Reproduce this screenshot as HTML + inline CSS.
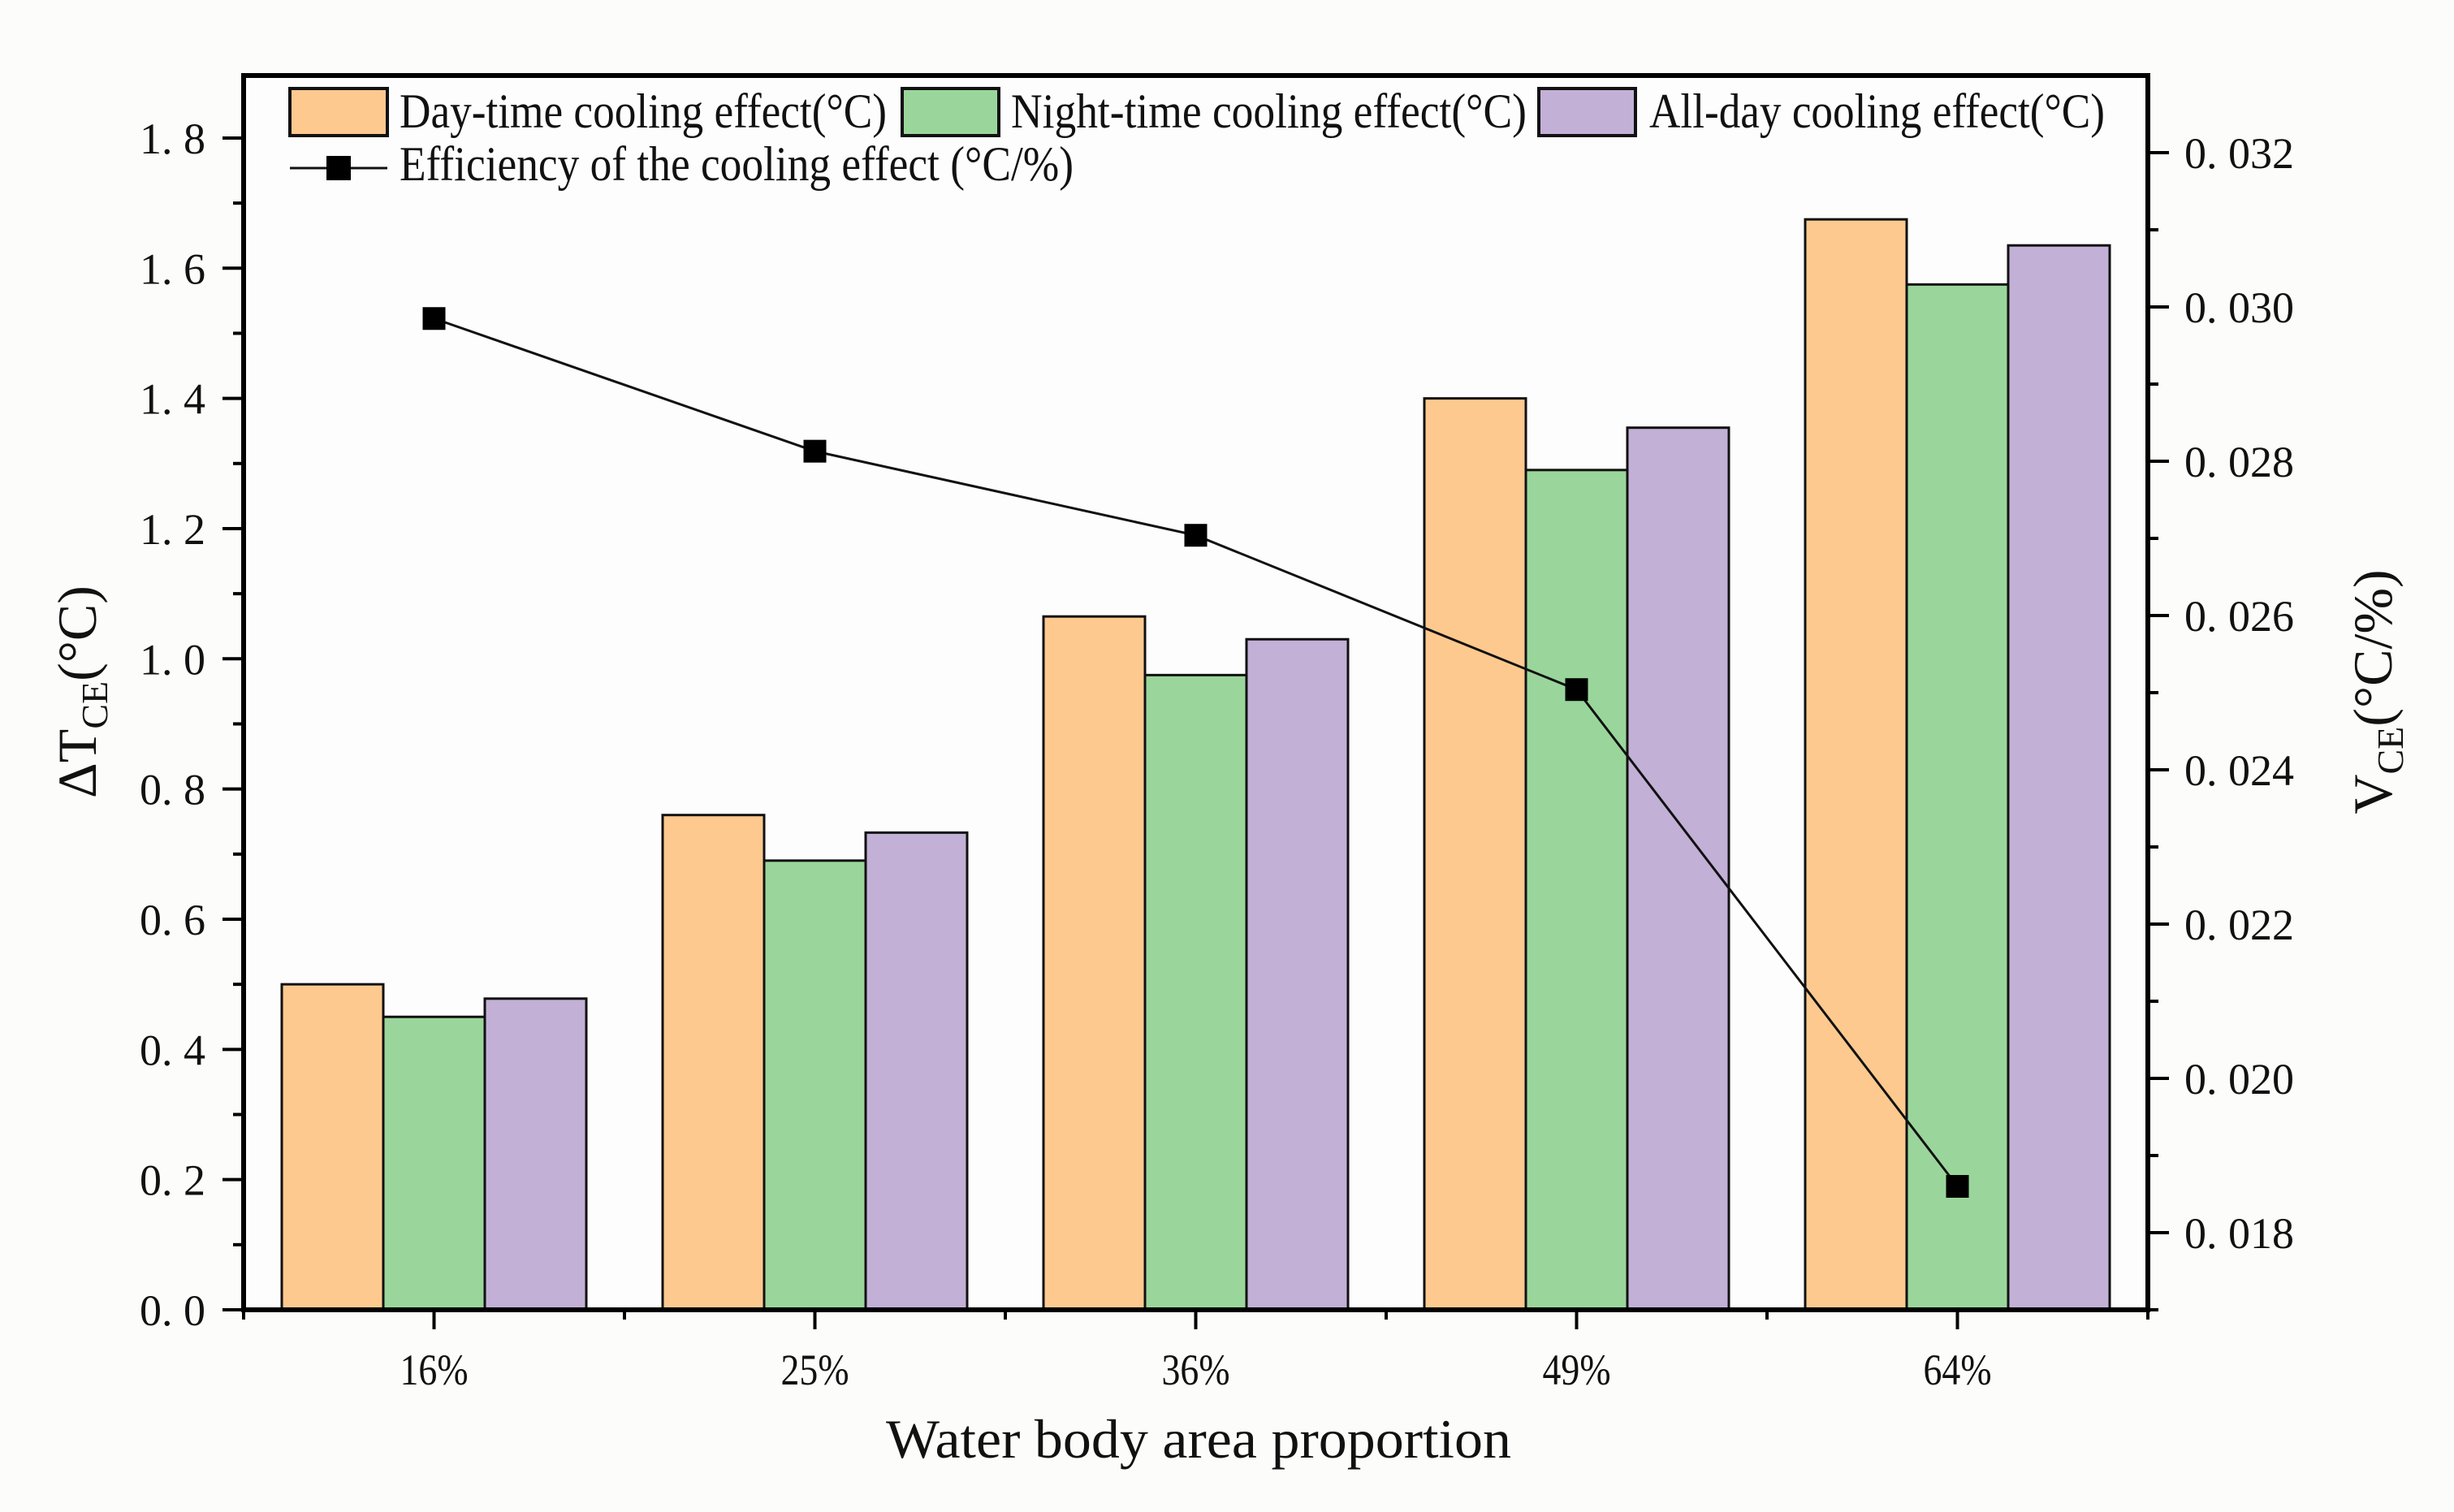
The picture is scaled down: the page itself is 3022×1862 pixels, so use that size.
<!DOCTYPE html>
<html><head><meta charset="utf-8"><style>
html,body{margin:0;padding:0;background:#fcfcfb}
svg{display:block}
text{font-family:"Liberation Serif",serif;fill:#111}
</style></head><body>
<svg id="chart" width="3022" height="1862" viewBox="0 0 3022 1862" xmlns="http://www.w3.org/2000/svg">
<rect x="0" y="0" width="3022" height="1862" fill="#fcfcfb"/>
<rect x="300" y="93" width="2345" height="1520" fill="#fdfdfd"/>
<g id="bars"></g>
<g id="line"></g>
<g id="axes"></g>
<g id="legend">
  <rect x="357" y="109" width="120" height="58" fill="#fdc98f" stroke="#111" stroke-width="4"/>
  <text x="492" y="157" font-size="60" textLength="600" lengthAdjust="spacingAndGlyphs">Day-time cooling effect(°C)</text>
  <rect x="1111" y="109" width="119" height="58" fill="#9ad69b" stroke="#111" stroke-width="4"/>
  <text x="1245" y="157" font-size="60" textLength="635" lengthAdjust="spacingAndGlyphs">Night-time cooling effect(°C)</text>
  <rect x="1895" y="109" width="119" height="58" fill="#c2b0d6" stroke="#111" stroke-width="4"/>
  <text x="2031" y="157" font-size="60" textLength="561" lengthAdjust="spacingAndGlyphs">All-day cooling effect(°C)</text>
  <line x1="357" y1="207" x2="477" y2="207" stroke="#111" stroke-width="3"/>
  <rect x="402" y="192" width="30" height="30" fill="#000"/>
  <text x="492" y="222" font-size="60" textLength="830" lengthAdjust="spacingAndGlyphs">Efficiency of the cooling effect (°C/%)</text>
</g>
<text transform="translate(118,852) rotate(-90)" text-anchor="middle" font-size="68">ΔT<tspan font-size="46" dy="14">CE</tspan><tspan dy="-14">(°C)</tspan></text>
<text transform="translate(2945,852) rotate(-90)" text-anchor="middle" font-size="68">V<tspan font-size="46" dy="14">CE</tspan><tspan dy="-14">(°C/%)</tspan></text>
<text x="1476" y="1795" text-anchor="middle" font-size="68" textLength="770" lengthAdjust="spacingAndGlyphs">Water body area proportion</text>
</svg>
<script>
const categories = ["16%","25%","36%","49%","64%"];
const dayValues = [0.50, 0.76, 1.065, 1.40, 1.675];
const nightValues = [0.45, 0.69, 0.975, 1.29, 1.575];
const allDayValues = [0.478, 0.733, 1.03, 1.355, 1.635];
const efficiencyValues = [0.02985, 0.02813, 0.02704, 0.02504, 0.0186];
const leftTicks = [0, 0.2, 0.4, 0.6, 0.8, 1.0, 1.2, 1.4, 1.6, 1.8];
const leftTickLabels = ["0. 0","0. 2","0. 4","0. 6","0. 8","1. 0","1. 2","1. 4","1. 6","1. 8"];
const rightTicks = [0.018, 0.020, 0.022, 0.024, 0.026, 0.028, 0.030, 0.032];
const rightTickLabels = ["0. 018","0. 020","0. 022","0. 024","0. 026","0. 028","0. 030","0. 032"];

const NS="http://www.w3.org/2000/svg";
const X0=300, X1=2645, Y0=1613, Y1=93;
const step=(X1-X0)/categories.length;
function xC(i){return X0+step*(i+0.5);}
function yL(v){return Y0 - v*801.7;}
function yR(v){return 1518 - (v-0.018)*95000;}
function mk(tag, attrs, parent){const e=document.createElementNS(NS,tag);for(const k in attrs)e.setAttribute(k,attrs[k]);parent.appendChild(e);return e;}

const bars=document.getElementById('bars');
const bw=125;
const series=[[dayValues,"#fdc98f","day"],[nightValues,"#9ad69b","night"],[allDayValues,"#c2b0d6","allday"]];
series.forEach((s,si)=>{
  s[0].forEach((v,i)=>{
    const x=xC(i)+(si-1.5)*bw;
    const r=mk('rect',{x:x,y:yL(v),width:bw,height:Y0-yL(v),fill:s[1],stroke:"#111","stroke-width":3},bars);
    
    
  });
});

const line=document.getElementById('line');
const pts=efficiencyValues.map((v,i)=>xC(i)+","+yR(v)).join(" ");
const pl=mk('polyline',{points:pts,fill:"none",stroke:"#111","stroke-width":3},line);


efficiencyValues.forEach((v,i)=>{
  const m=mk('rect',{x:xC(i)-14,y:yR(v)-14,width:28,height:28,fill:"#000"},line);
  
  
});

const axes=document.getElementById('axes');
const frame=mk('rect',{x:X0,y:Y1,width:X1-X0,height:Y0-Y1,fill:"none",stroke:"#000","stroke-width":6},axes);


leftTicks.forEach((v,i)=>{
  const y=yL(v);
  const t=mk('line',{x1:X0-26,y1:y,x2:X0,y2:y,stroke:"#000","stroke-width":4},axes);
  
  
  const mm=yL(v+0.1);
  if(mm>Y1){const m=mk('line',{x1:X0-13,y1:mm,x2:X0,y2:mm,stroke:"#000","stroke-width":4},axes);
  
  }
  const tx=mk('text',{x:253,y:y+19,"text-anchor":"end","font-size":54},axes);
  tx.textContent=leftTickLabels[i];
  
  
});
rightTicks.forEach((v,i)=>{
  const y=yR(v);
  const t=mk('line',{x1:X1,y1:y,x2:X1+26,y2:y,stroke:"#000","stroke-width":4},axes);
  
  
  const mm=yR(v+0.001);
  if(mm>Y1){const m=mk('line',{x1:X1,y1:mm,x2:X1+13,y2:mm,stroke:"#000","stroke-width":4},axes);
  
  }
  const tx=mk('text',{x:2690,y:y+19,"font-size":54},axes);
  tx.textContent=rightTickLabels[i];
  
  
});
const mm0=mk('line',{x1:X1,y1:yR(0.017),x2:X1+13,y2:yR(0.017),stroke:"#000","stroke-width":4},axes);


categories.forEach((c,i)=>{
  const x=xC(i);
  const t=mk('line',{x1:x,y1:Y0,x2:x,y2:Y0+24,stroke:"#000","stroke-width":4},axes);
  
  
  const m=mk('line',{x1:X0+step*i,y1:Y0,x2:X0+step*i,y2:Y0+12,stroke:"#000","stroke-width":4},axes);
  
  
  const tx=mk('text',{x:x,y:1705,"text-anchor":"middle","font-size":54,textLength:84,lengthAdjust:"spacingAndGlyphs"},axes);
  tx.textContent=c;
  
  
});
const me=mk('line',{x1:X1,y1:Y0,x2:X1,y2:Y0+12,stroke:"#000","stroke-width":4},axes);


</script>
</body></html>
